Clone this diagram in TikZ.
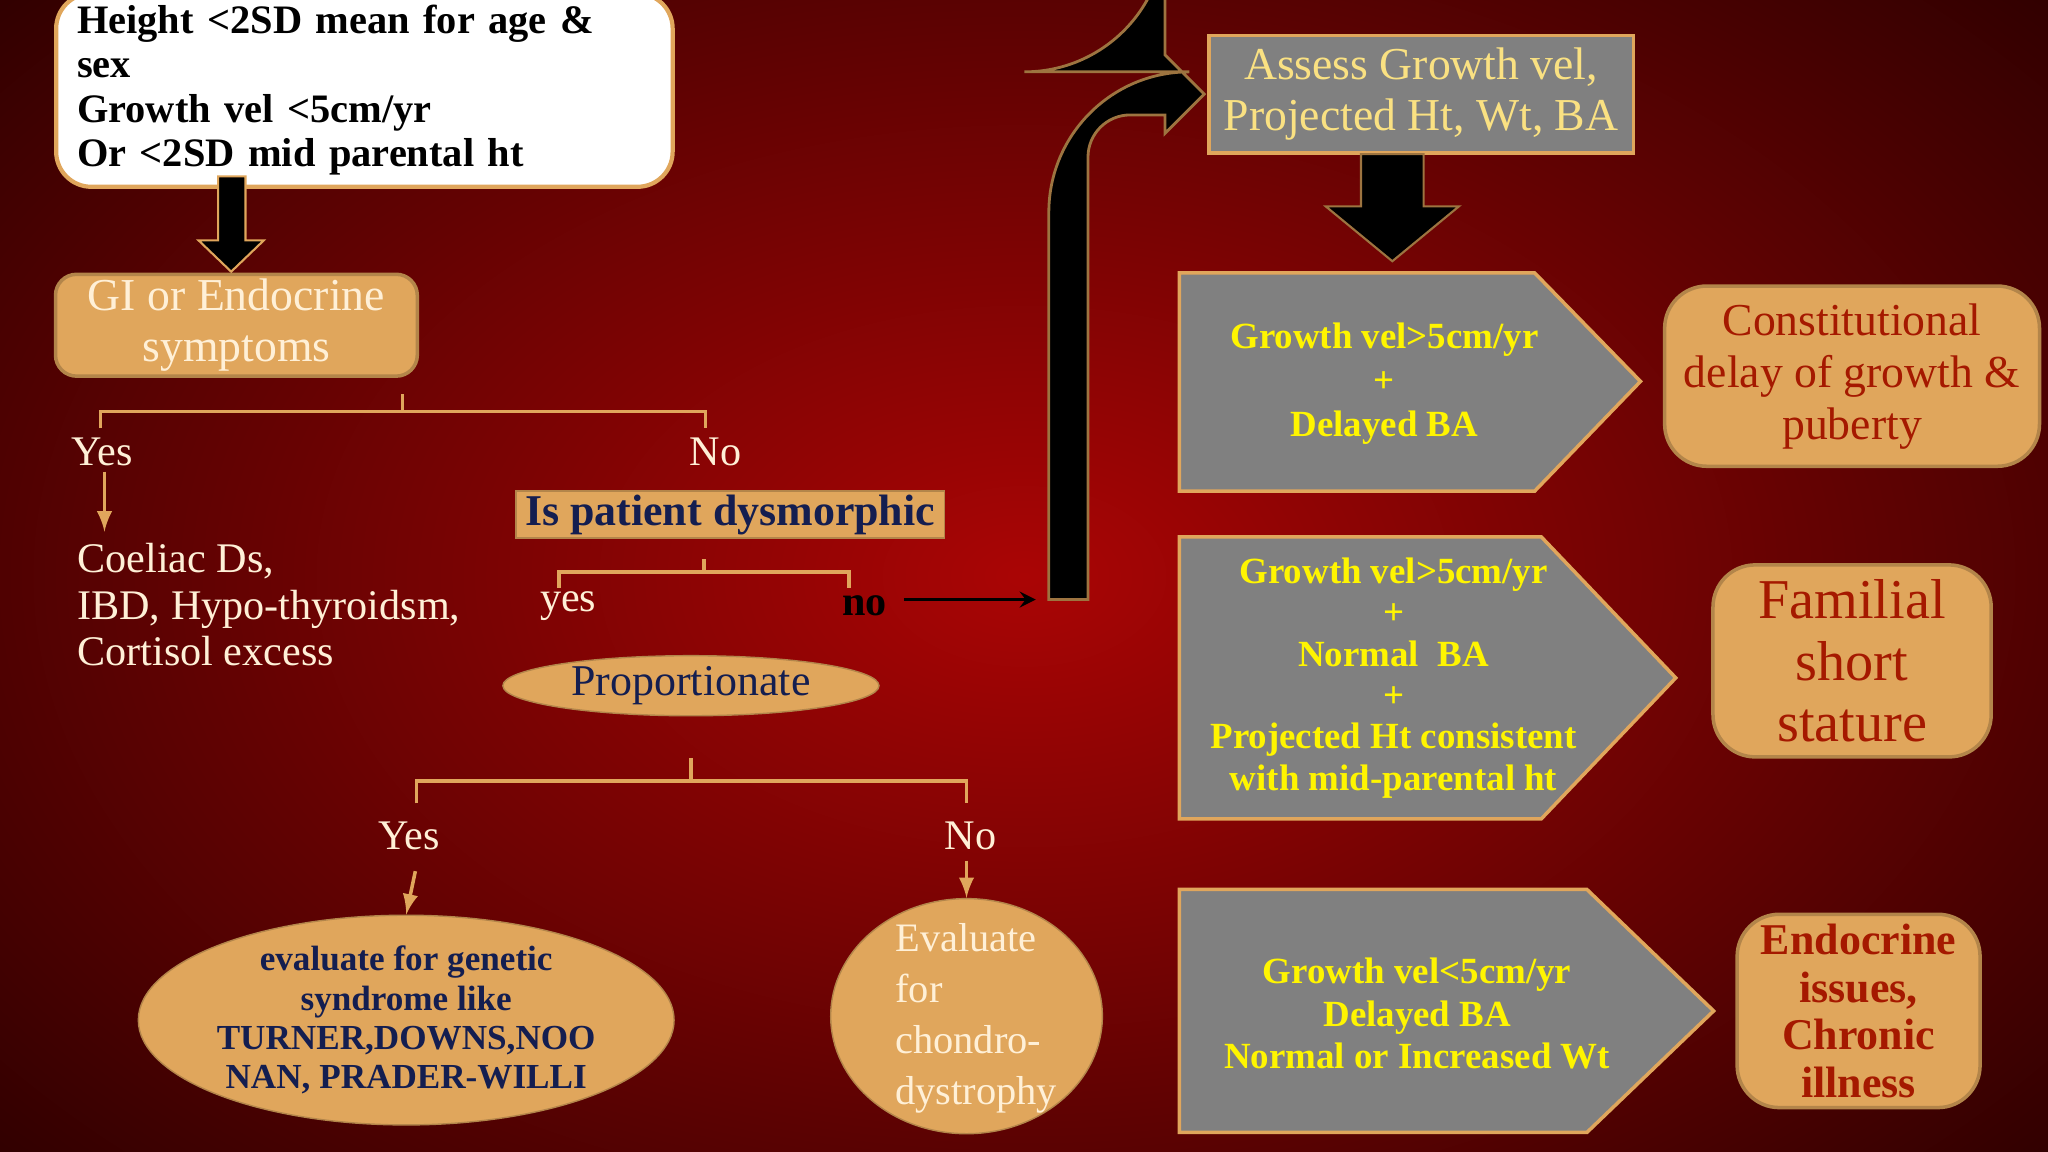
\documentclass[tikz,border=0pt]{standalone}
\usepackage{fontspec}
\setmainfont{Liberation Serif}
\usetikzlibrary{shapes.geometric,shapes.arrows}
\definecolor{tan}{RGB}{224,166,92}
\definecolor{cream}{RGB}{255,240,215}
\definecolor{navy}{RGB}{20,30,80}
\definecolor{yel}{RGB}{255,245,0}
\definecolor{dred}{RGB}{165,25,0}
\definecolor{gry}{RGB}{128,128,128}
\def\pu{0.013061cm}
\tikzset{
 tanbox/.style={draw=tan!80!black,fill=tan,line width=1pt,rounded corners=6pt,align=center,inner sep=0pt},
 grybox/.style={draw=tan,fill=gry,line width=1pt,inner sep=0pt},
 wt/.style={text=cream,font=\fontsize{12}{13}\selectfont,inner sep=1pt},
 brace/.style={draw=tan,line width=1pt},
 tarr/.style={draw=tan,line width=1pt,-latex},
 yt/.style={text=yel,font=\bfseries\fontsize{10.5}{12.5}\selectfont,align=center},
}
\begin{document}
\begin{tikzpicture}[x=\pu,y=-\pu]
\useasboundingbox (0,0) rectangle (1568,882);
\shade[inner color={rgb,255:red,170;green,5;blue,5},outer color={rgb,255:red,45;green,0;blue,0}] (-300,-250) rectangle (1868,1132);
% box 1
\node[draw=tan,fill=white,line width=1.2pt,rounded corners=10pt,minimum width={472*\pu},minimum height={130*\pu},align=left,text width={440*\pu},font=\bfseries\fontsize{11.5}{12.6}\selectfont] (h) at (279,69) {Height <2SD mean for age \& sex\\Growth vel <5cm/yr\\Or <2SD mid parental ht};
\node[tanbox,minimum width={277*\pu},minimum height={78*\pu},text=cream,font=\fontsize{13}{14.5}\selectfont] (gi) at (181,249) {GI or Endocrine\\symptoms};
\draw[fill=black,draw=tan,line width=0.6pt] (167,135)--(188,135)--(188,184)--(202,184)--(177,208)--(152,184)--(167,184)--cycle;
% brace 1
\coordinate (b1) at (308,302);
\draw[brace] (77,328)--(77,315)--(540,315)--(540,328) (308,315)--(b1);
\node[wt] (y1) at (78,346) {Yes};
\node[wt] (n1) at (548,346) {No};
\coordinate (c1) at (80,407);
\draw[tarr] (80,361)--(c1);
\node[wt,align=left,anchor=north west,font=\fontsize{12}{13.2}\selectfont] (co) at (56,413) {Coeliac Ds,\\IBD, Hypo-thyroidsm,\\Cortisol excess};
\node[fill=tan,draw=tan!80!black,minimum width={328*\pu},minimum height={36*\pu},inner sep=0pt,text=navy,font=\bfseries\fontsize{12.5}{14}\selectfont] (dy) at (559,394) {Is patient dysmorphic};
\draw[brace] (428,450)--(428,438)--(650,438)--(650,450) (539,438)--(539,428);
\node[wt] (y2) at (435,464) {yes};
\node[text=black,font=\bfseries\fontsize{12}{13}\selectfont] (n2) at (662,464) {no};
\coordinate (c2) at (793,459);
\draw[-stealth,line width=1pt] (692,459)--(c2);
\node[ellipse,fill=tan,draw=tan!80!black,minimum width={288*\pu},minimum height={46*\pu},inner sep=0pt,text=navy,font=\fontsize{12.5}{14}\selectfont] (pr) at (529,525) {Proportionate};
\draw[brace] (319,615)--(319,598)--(740,598)--(740,615) (529,598)--(529,580);
\node[wt] (y3) at (313,640) {Yes};
\node[wt] (n3) at (743,640) {No};
\node[ellipse,fill=tan,draw=tan!80!black,minimum width={362*\pu},minimum height={120*\pu},inner sep=0pt,align=center,text=navy,font=\bfseries\fontsize{10}{11.2}\selectfont] (ge) at (311,781) {evaluate for genetic\\syndrome like\\TURNER,DOWNS,NOO\\NAN, PRADER-WILLI};
\node[ellipse,fill=tan,draw=tan!80!black,minimum width={208*\pu},minimum height={180*\pu},inner sep=0pt] (ch) at (740,778) {};
\node[text=cream,align=left,font=\fontsize{11.5}{14.5}\selectfont,anchor=west] (cht) at (676,780) {Evaluate\\for\\chondro-\\dystrophy};
\draw[tarr] (318,667)--(ge.north);
\draw[tarr] (740,659)--(ch.north);
% bent arrow
\draw[fill=black,draw=tan!70!black,line width=0.8pt] (803,459) [rounded corners=40pt] -- (803,55) -- (892,55) [sharp corners] -- (892,42) -- (922,72) -- (892,102) -- (892,88) [rounded corners=12pt] -- (833,88) [sharp corners] -- (833,459) -- cycle;
\node[grybox,minimum width={325*\pu},minimum height={90*\pu},align=center,text={rgb,255:red,250;green,225;blue,130},font=\fontsize{13}{14.5}\selectfont] (as) at (1088,72) {Assess Growth vel,\\Projected Ht, Wt, BA};
\draw[fill=black,draw=tan!70!black,line width=0.6pt] (1042,118)--(1090,118)--(1090,158)--(1117,158)--(1066,200)--(1015,158)--(1042,158)--cycle;
% pentagons
\draw[grybox] (903,209)--(1175,209)--(1256,292)--(1175,376)--(903,376)--cycle;
\node[yt] (p1) at (1060,294) {Growth vel>5cm/yr\\+\\Delayed BA};
\draw[grybox] (903,411)--(1180,411)--(1283,519)--(1180,627)--(903,627)--cycle;
\node[yt,font=\bfseries\fontsize{10.5}{11.8}\selectfont] (p2) at (1067,519) {Growth vel>5cm/yr\\+\\Normal\ \ BA\\+\\Projected Ht consistent\\with mid-parental ht};
\draw[grybox] (903,681)--(1215,681)--(1312,774)--(1215,867)--(903,867)--cycle;
\node[yt,font=\bfseries\fontsize{10.5}{12}\selectfont] (p3) at (1085,776) {Growth vel<5cm/yr\\Delayed BA\\Normal or Increased Wt};
% right boxes
\node[tanbox,rounded corners=12pt,minimum width={287*\pu},minimum height={138*\pu},text=dred,font=\fontsize{13}{14.8}\selectfont] (r1) at (1418,288) {Constitutional\\delay of growth \&\\puberty};
\node[tanbox,rounded corners=12pt,minimum width={213*\pu},minimum height={147*\pu},text=dred,font=\fontsize{16}{17.5}\selectfont] (r2) at (1418,506) {Familial\\short\\stature};
\node[tanbox,rounded corners=12pt,minimum width={186*\pu},minimum height={148*\pu},text=dred,font=\bfseries\fontsize{12.5}{13.5}\selectfont] (r3) at (1423,774) {Endocrine\\issues,\\Chronic\\illness};
\end{tikzpicture}
\end{document}
